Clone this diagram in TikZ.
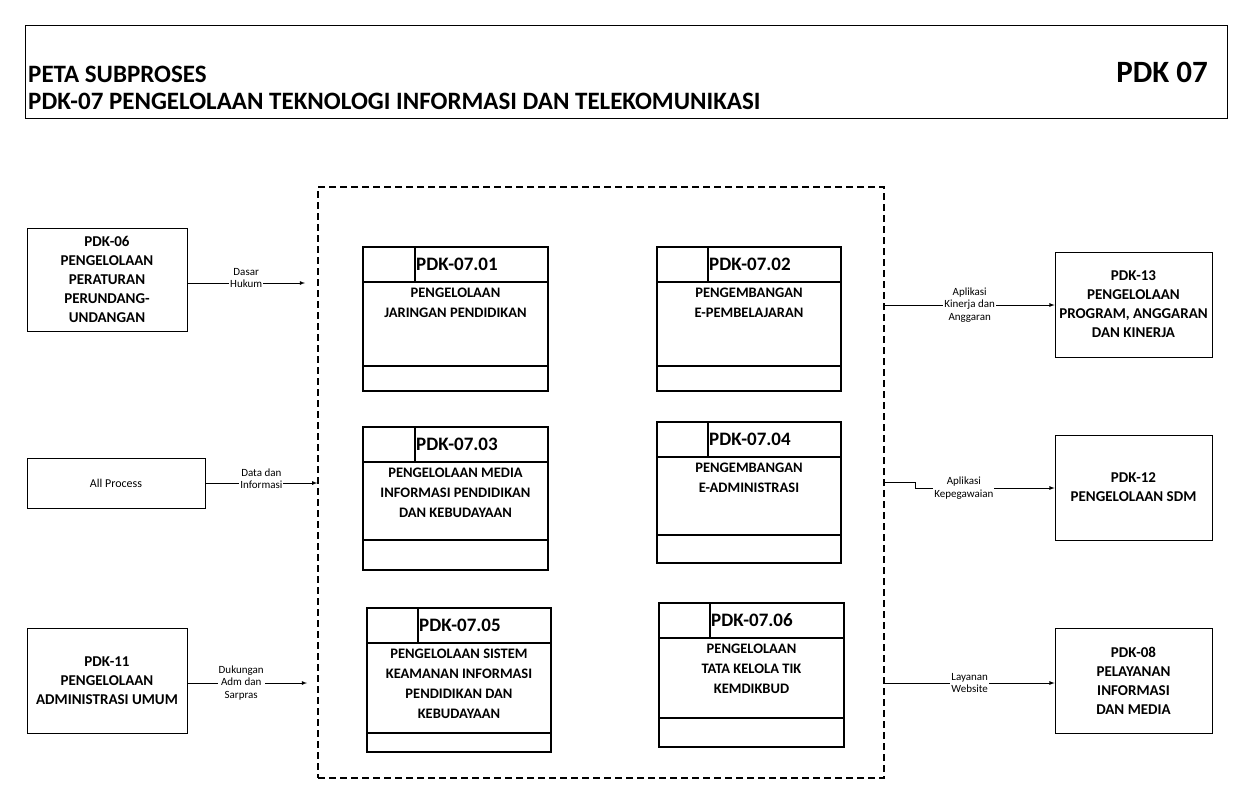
\documentclass[tikz,border=0pt]{standalone}
\usepackage{fontspec}
\setmainfont{Carlito}
\begin{document}
\begin{tikzpicture}[x=1pt,y=-1pt,
  ext/.style={draw,line width=0.8pt,align=center,font=\bfseries\fontsize{15}{19}\selectfont},
  lbl/.style={align=center,font=\fontsize{11}{12.5}\selectfont,fill=white,inner sep=1pt},
  arr/.style={-latex,line width=0.8pt},
  sub/.style={line width=2pt},
  ttl/.style={font=\bfseries\fontsize{19}{21}\selectfont}]
\useasboundingbox (0,0) rectangle (1250,790);
\node[draw,line width=1pt,minimum width=1202pt,minimum height=93pt,inner sep=0pt] (hdr) at (626,71.5) {};
\node[anchor=west,font=\bfseries\fontsize{25}{27}\selectfont,inner sep=0] (t1) at (28,74) {PETA SUBPROSES};
\node[anchor=west,font=\bfseries\fontsize{25}{27}\selectfont,inner sep=0] (t2) at (28,101) {PDK-07 PENGELOLAAN TEKNOLOGI INFORMASI DAN TELEKOMUNIKASI};
\node[anchor=east,font=\bfseries\fontsize{31}{33}\selectfont,inner sep=0] (t3) at (1208,72) {PDK 07};
\node[draw,dash pattern=on 7pt off 4pt,line width=1.5pt,minimum width=566pt,minimum height=591pt,inner sep=0] (dash) at (601,482.5) {};
% left
\node[ext,minimum width=160pt,minimum height=103pt] (l1) at (107,279.5) {PDK-06\\PENGELOLAAN\\PERATURAN\\PERUNDANG-\\UNDANGAN};
\node[draw,line width=0.8pt,minimum width=178pt,minimum height=50pt,font=\fontsize{12}{14}\selectfont] (l2) at (116,483) {All Process};
\node[ext,minimum width=160pt,minimum height=105pt] (l3) at (107,680.5) {PDK-11\\PENGELOLAAN\\ADMINISTRASI UMUM};
% right
\node[ext,minimum width=157pt,minimum height=105pt] (r1) at (1133.5,304.5) {PDK-13\\PENGELOLAAN\\PROGRAM, ANGGARAN\\DAN KINERJA};
\node[ext,minimum width=157pt,minimum height=105pt] (r2) at (1133.5,487.5) {PDK-12\\PENGELOLAAN SDM};
\node[ext,minimum width=157pt,minimum height=105pt] (r3) at (1133.5,680.5) {PDK-08\\PELAYANAN\\INFORMASI\\DAN MEDIA};
% sub boxes
\newcommand{\subbox}[9]{%
  \draw[sub] (#1,#2) rectangle (#3,#4);
  \draw[sub] (#1,#5) -- (#3,#5);
  \draw[sub] (#1,#6) -- (#3,#6);
  \draw[sub] (#7,#2) -- (#7,#5);
  \node[ttl,anchor=west,inner sep=1pt] at (#7,{(#2+#5)/2}) {#8};
  \node[font=\bfseries\fontsize{14.5}{20}\selectfont,align=center,anchor=north] at ({(#1+#3)/2},{#5+2}) {#9};
}
\subbox{363}{247}{548}{391}{282}{366}{415}{PDK-07.01}{PENGELOLAAN\\JARINGAN PENDIDIKAN}
\subbox{657}{247}{841}{391}{282}{366}{708}{PDK-07.02}{PENGEMBANGAN\\E-PEMBELAJARAN}
\subbox{363}{427}{548}{570}{462}{540}{415}{PDK-07.03}{PENGELOLAAN MEDIA\\INFORMASI PENDIDIKAN\\DAN KEBUDAYAAN}
\subbox{657}{422}{841}{563}{457}{535}{708}{PDK-07.04}{PENGEMBANGAN\\E-ADMINISTRASI}
\subbox{367}{608}{551}{752}{643}{733}{418}{PDK-07.05}{PENGELOLAAN SISTEM\\KEAMANAN INFORMASI\\PENDIDIKAN DAN\\KEBUDAYAAN}
\subbox{659}{603}{844}{747}{638}{718}{710}{PDK-07.06}{PENGELOLAAN\\TATA KELOLA TIK\\KEMDIKBUD}
% arrows
\coordinate (a1) at (305,283);
\draw[arr] (l1.east|-a1) -- (a1) node[lbl,pos=0.5,above=-6pt] {Dasar\\Hukum};
\draw[arr] (l2.east) -- (dash.west|-l2.east) node[lbl,pos=0.5,above=-7pt] {Data dan\\Informasi};
\coordinate (a3) at (307,683);
\draw[arr] (l3.east|-a3) -- (a3) node[lbl,pos=0.45] {Dukungan\\Adm dan\\Sarpras};
\draw[arr] (dash.east|-0,305) -- (r1.west|-0,305) node[lbl,pos=0.5] {Aplikasi\\Kinerja dan\\Anggaran};
\draw[arr] (dash.east|-0,482) -- (915,482) -- (915,488) -- (r2.west|-0,488) node[lbl,pos=0.35] {Aplikasi\\Kepegawaian};
\draw[arr] (dash.east|-0,683) -- (r3.west|-0,683) node[lbl,pos=0.5] {Layanan\\Website};
\end{tikzpicture}
\end{document}
